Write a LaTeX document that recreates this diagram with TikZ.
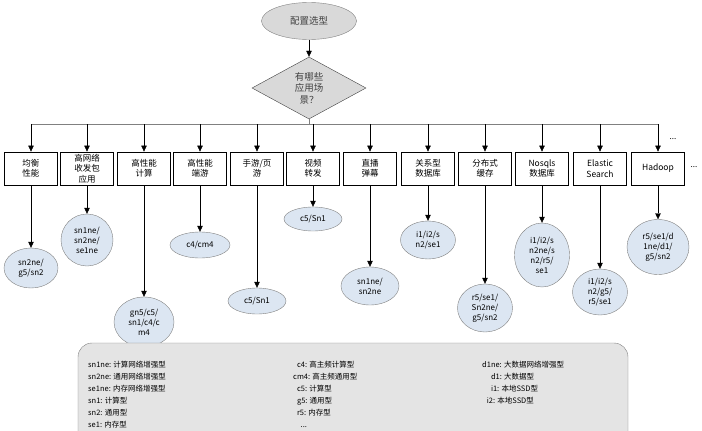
\documentclass[tikz,border=0pt]{standalone}
\usepackage{fontspec}
\setmainfont{Noto Sans CJK SC}
\usetikzlibrary{arrows.meta, shapes.geometric, positioning}
\definecolor{ovalfill}{HTML}{DCE6F2}
\definecolor{startfill}{HTML}{D9D9D9}
\definecolor{legfill}{HTML}{E4E4E4}
\tikzset{
    scene-box/.style={
        draw, thick, fill=white, minimum width=53pt, minimum height=33pt,
        align=center, font=\fontsize{8.5}{10.5}\selectfont, inner sep=1pt
    },
    type-oval/.style={
        ellipse, draw=gray, fill=ovalfill, align=center, inner sep=0pt,
        font=\fontsize{8}{10}\selectfont
    },
    flow-arrow/.style={-{Triangle[length=6pt,width=5.5pt]}},
}

\begin{document}
\begin{tikzpicture}[x=1pt, y=-1pt]
        \useasboundingbox (0,0) rectangle (702,431);

        % START, QUESTION
        \node[ellipse, draw=gray, fill=startfill, minimum width=95pt, minimum height=37pt,
              text=darkgray, font=\fontsize{9.5}{11}\selectfont] (START) at (309,21) {配置选型};
        \node[diamond, draw=darkgray, fill=startfill, minimum width=114pt, minimum height=62pt,
              align=center, inner sep=0pt, aspect=1.8, text=darkgray,
              font=\fontsize{9.5}{11.5}\selectfont] (ASK) at (309,88) {有哪些\\应用场\\景？};
        \draw[flow-arrow] (START) -- (ASK);

        % BUS
        \coordinate (BUSL) at (32,124);
        \coordinate (BUSR) at (658,124);
        \draw[gray] (BUSL) -- (BUSR);
        \draw[gray] (ASK.south) -- (309,124);

        % SCENE BOXES, TYPE OVALS
        \foreach \i/\bx/\btxt/\oy/\ow/\oh/\otxt in {
            1/31/{均衡\\性能}/268/54/40/{sn2ne/\\g5/sn2},
            2/87/{高网络\\收发包\\应用}/240/52/52/{sn1ne/\\sn2ne/\\se1ne},
            3/144/{高性能\\计算}/322/60/50/{gn5/c5/\\sn1/c4/c\\m4},
            4/200/{高性能\\端游}/245/60/26/{c4/cm4},
            5/257/{手游/页\\游}/301/58/26/{c5/Sn1},
            6/313/{视频\\转发}/219/58/24/{c5/Sn1},
            7/370/{直播\\弹幕}/286/58/38/{sn1ne/\\sn2ne},
            8/428/{关系型\\数据库}/240/55/38/{i1/i2/s\\n2/se1},
            9/485/{分布式\\缓存}/308/55/48/{r5/se1/\\Sn2ne/\\g5/sn2},
            10/542/{Nosqls\\数据库}/255/55/64/{i1/i2/s\\n2ne/s\\n2/r5/\\se1},
            11/600/{Elastic\\Search}/292/55/46/{i1/i2/s\\n2/g5/\\r5/se1},
            12/658/{Hadoop}/247/62/55/{r5/se1/d\\1ne/d1/\\g5/sn2}} {
            \node[scene-box] (BOX\i) at (\bx,168.5) {\btxt};
            \coordinate (TAP\i) at (\bx,124);
            \draw[flow-arrow] (TAP\i) -- (BOX\i);
            \node[type-oval, minimum width=\ow pt, minimum height=\oh pt] (OVAL\i) at (\bx,\oy) {\otxt};
            \draw[flow-arrow] (BOX\i) -- (OVAL\i);
        }

        % MORE
        \node[font=\fontsize{8}{8}\selectfont] (MORE1) at (673,139) {...};
        \node[font=\fontsize{8}{8}\selectfont] (MORE2) at (694,167) {...};

        % LEGEND
        \draw[gray, fill=legfill, rounded corners=14pt] (78,343) rectangle (628,445);
        \node[anchor=north west, align=left, inner sep=0pt, font=\fontsize{7.5}{12}\selectfont] (LEG1) at (88,361)
            {sn1ne: 计算网络增强型\\sn2ne: 通用网络增强型\\se1ne: 内存网络增强型\\sn1: 计算型\\sn2: 通用型\\se1: 内存型};
        \node[anchor=north west, align=left, inner sep=0pt, font=\fontsize{7.5}{12}\selectfont] (LEG2) at (293,361)
            {\phantom{c}c4: 高主频计算型\\cm4: 高主频通用型\\\phantom{c}c5: 计算型\\\phantom{c}g5: 通用型\\\phantom{c}r5: 内存型\\\phantom{cc}...};
        \node[anchor=north west, align=left, inner sep=0pt, font=\fontsize{7.5}{12}\selectfont] (LEG3) at (482,361)
            {d1ne: 大数据网络增强型\\\phantom{d1}d1: 大数据型\\\phantom{d1}i1: 本地SSD型\\\phantom{d}i2: 本地SSD型};

    \end{tikzpicture}
\end{document}
